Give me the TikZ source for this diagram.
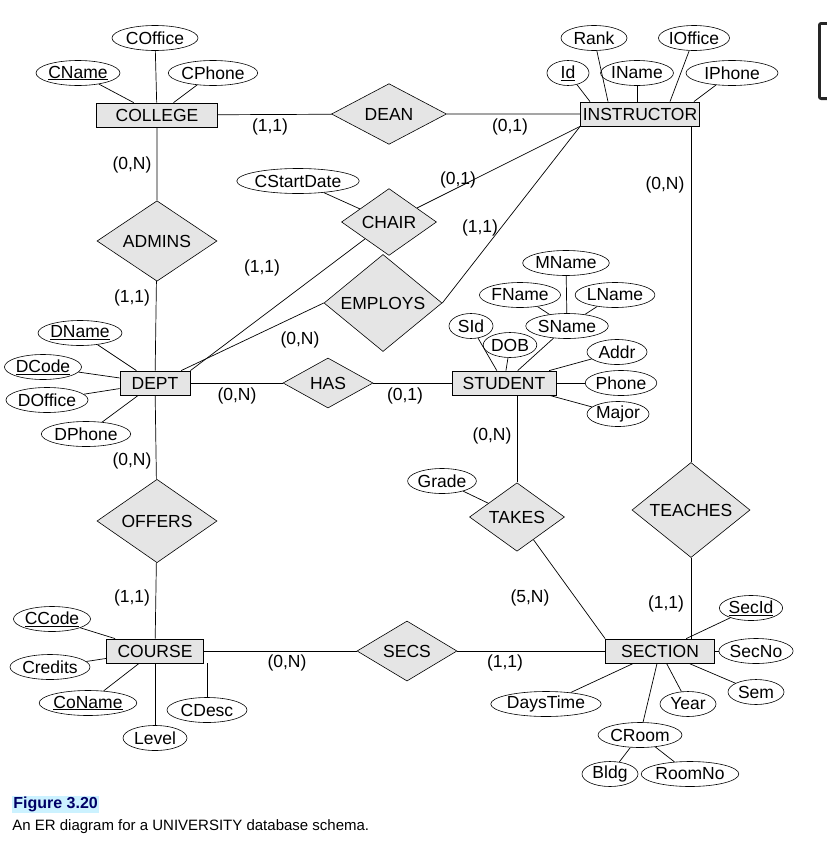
\documentclass[tikz,border=0pt]{standalone}
\usepackage{fontspec}
\setmainfont{Liberation Sans}
\usetikzlibrary{shapes.geometric}
\begin{document}
\begin{tikzpicture}[x=1pt,y=-1pt,
 every node/.style={font=\fontsize{17.5}{20}\selectfont},
 ent/.style={draw,fill=black!10,minimum height=24pt,inner sep=2pt,line width=0.8pt},
 rel/.style={draw,diamond,fill=black!10,inner sep=0pt,line width=0.6pt},
 att/.style={draw,ellipse,minimum height=25pt,inner sep=0pt,line width=0.6pt},
 lab/.style={inner sep=0pt},
 line width=0.7pt]
\useasboundingbox (0,0) rectangle (827,846);
\fill[black!85,rounded corners=3pt] (818,22) rectangle (835,100);
\fill[white] (821,25) rectangle (830,97);
% entities
\node[ent,minimum width=121pt] (college) at (157,115) {COLLEGE};
\node[ent,minimum width=119pt] (instr) at (640,114) {INSTRUCTOR};
\node[ent,minimum width=70pt] (dept) at (155,383) {DEPT};
\node[ent,minimum width=104pt] (student) at (504,383) {STUDENT};
\node[ent,minimum width=97pt] (course) at (155,651) {COURSE};
\node[ent,minimum width=109pt] (section) at (660,651) {SECTION};
% relationships
\node[rel,minimum width=115pt,minimum height=60pt] (dean) at (389,114) {DEAN};
\node[rel,minimum width=95pt,minimum height=55pt] (chair) at (389,222) {CHAIR};
\node[rel,minimum width=120pt,minimum height=60pt] (admins) at (157,241) {ADMINS};
\node[rel,minimum width=118pt,minimum height=60pt] (employs) at (383,303) {EMPLOYS};
\node[rel,minimum width=90pt,minimum height=50pt] (has) at (328,383) {HAS};
\node[rel,minimum width=120pt,minimum height=60pt] (offers) at (157,521) {OFFERS};
\node[rel,minimum width=95pt,minimum height=55pt] (takes) at (517,517) {TAKES};
\node[rel,minimum width=118pt,minimum height=60pt] (teaches) at (691,510) {TEACHES};
\node[rel,minimum width=100pt,minimum height=50pt] (secs) at (407,651) {SECS};
% attributes
\node[att,minimum width=86pt] (coffice) at (155,38) {COffice};
\node[att,minimum width=74pt] (cname) at (78,73) {\underline{CName}};
\node[att,minimum width=88pt] (cphone) at (213,73) {CPhone};
\node[att,minimum width=66pt] (rank) at (594,38) {Rank};
\node[att,minimum width=70pt] (ioffice) at (694,38) {IOffice};
\node[att,minimum width=42pt] (id) at (568,73) {\underline{Id}};
\node[att,minimum width=68pt] (iname) at (637,73) {IName};
\node[att,minimum width=92pt] (iphone) at (732,73) {IPhone};
\node[att,minimum width=104pt] (csd) at (298,181) {CStartDate};
\node[att,minimum width=70pt] (mname) at (566,263) {MName};
\node[att,minimum width=70pt] (fname) at (520,295) {FName};
\node[att,minimum width=70pt] (lname) at (615,295) {LName};
\node[att,minimum width=70pt] (sname) at (567,326) {SName};
\node[att,minimum width=44pt] (sid) at (471,326) {SId};
\node[att,minimum width=52pt] (dob) at (510,345) {DOB};
\node[att,minimum width=60pt] (addr) at (617,352) {Addr};
\node[att,minimum width=62pt] (phone) at (621,383) {Phone};
\node[att,minimum width=62pt] (major) at (618,414) {Major};
\node[att,minimum width=74pt] (dname) at (80,333) {\underline{DName}};
\node[att,minimum width=76pt] (dcode) at (43,367) {\underline{DCode}};
\node[att,minimum width=80pt] (doffice) at (47,400) {DOffice};
\node[att,minimum width=80pt] (dphone) at (86,434) {DPhone};
\node[att,minimum width=66pt] (grade) at (442,481) {Grade};
\node[att,minimum width=76pt] (ccode) at (52,619) {\underline{CCode}};
\node[att,minimum width=80pt] (credits) at (50,667) {Credits};
\node[att,minimum width=90pt] (coname) at (88,703) {\underline{CoName}};
\node[att,minimum width=80pt] (cdesc) at (207,710) {CDesc};
\node[att,minimum width=64pt] (level) at (155,738) {Level};
\node[att,minimum width=62pt] (secid) at (751,608) {\underline{SecId}};
\node[att,minimum width=62pt] (secno) at (756,651) {SecNo};
\node[att,minimum width=56pt] (sem) at (756,692) {Sem};
\node[att,minimum width=56pt] (year) at (688,704) {Year};
\node[att,minimum width=90pt] (days) at (546,704) {DaysTime};
\node[att,minimum width=68pt] (croom) at (640,735) {CRoom};
\node[att,minimum width=56pt] (bldg) at (610,774) {Bldg};
\node[att,minimum width=74pt] (roomno) at (690,774) {RoomNo};
% relationship lines
\draw (college) -- (dean) -- (instr);
\draw (college) -- (admins) -- (dept);
\draw (dept.north east) -- (chair.south west);
\draw (chair) -- (instr.south west);
\draw (dept) -- (employs.west);
\draw (employs.east) -- (instr.south west);
\draw (dept) -- (has) -- (student);
\draw (dept) -- (offers) -- (course);
\draw (student.south -| takes) -- (takes);
\draw (takes) -- (section.north west);
\draw (instr.south -| teaches) -- (teaches) -- (section.north -| teaches);
\draw (course) -- (secs) -- (section);
% attribute lines
\draw (rank) -- ([xshift=-32pt]instr.north);
\draw (ioffice) -- ([xshift=30pt]instr.north);
\draw (id) -- ([xshift=-50pt]instr.north);
\draw (iname) -- (iname |- instr.north);
\draw (iphone) -- ([xshift=-6pt]instr.north east);
\foreach \a/\b in {coffice/college,cname/college,cphone/college,csd/chair,grade/takes,mname/sname,fname/sname,lname/sname,sname/student,sid/student,dob/student,addr/student,phone/student,major/student,dname/dept,dcode/dept,doffice/dept,dphone/dept,ccode/course,credits/course,coname/course,level/course,secid/section,secno/section,sem/section,year/section,days/section,croom/section,bldg/croom,roomno/croom}
  \draw (\a) -- (\b);
\draw (cdesc) -- (cdesc |- course.south);
% cardinalities
\node[lab] (c1) at (270,127) {(1,1)};
\node[lab] (c2) at (510,127) {(0,1)};
\node[lab] (c3) at (132,165) {(0,N)};
\node[lab] (c4) at (132,298) {(1,1)};
\node[lab] (c5) at (458,180) {(0,1)};
\node[lab] (c6) at (262,268) {(1,1)};
\node[lab] (c7) at (480,228) {(1,1)};
\node[lab] (c8) at (300,340) {(0,N)};
\node[lab] (c9) at (237,396) {(0,N)};
\node[lab] (c10) at (405,396) {(0,1)};
\node[lab] (c11) at (132,461) {(0,N)};
\node[lab] (c12) at (132,598) {(1,1)};
\node[lab] (c13) at (492,436) {(0,N)};
\node[lab] (c14) at (530,598) {(5,N)};
\node[lab] (c15) at (665,185) {(0,N)};
\node[lab] (c16) at (666,604) {(1,1)};
\node[lab] (c17) at (287,663) {(0,N)};
\node[lab] (c18) at (505,663) {(1,1)};
% caption
\node[anchor=west,fill=blue!25!cyan!20,text=blue!40!black,inner sep=1pt,font=\bfseries\fontsize{16}{18}\selectfont] (fig) at (12,804) {Figure 3.20};
\node[anchor=west,inner sep=0pt,font=\fontsize{15}{17}\selectfont] (cap) at (12,827) {An ER diagram for a UNIVERSITY database schema.};
\end{tikzpicture}
\end{document}
